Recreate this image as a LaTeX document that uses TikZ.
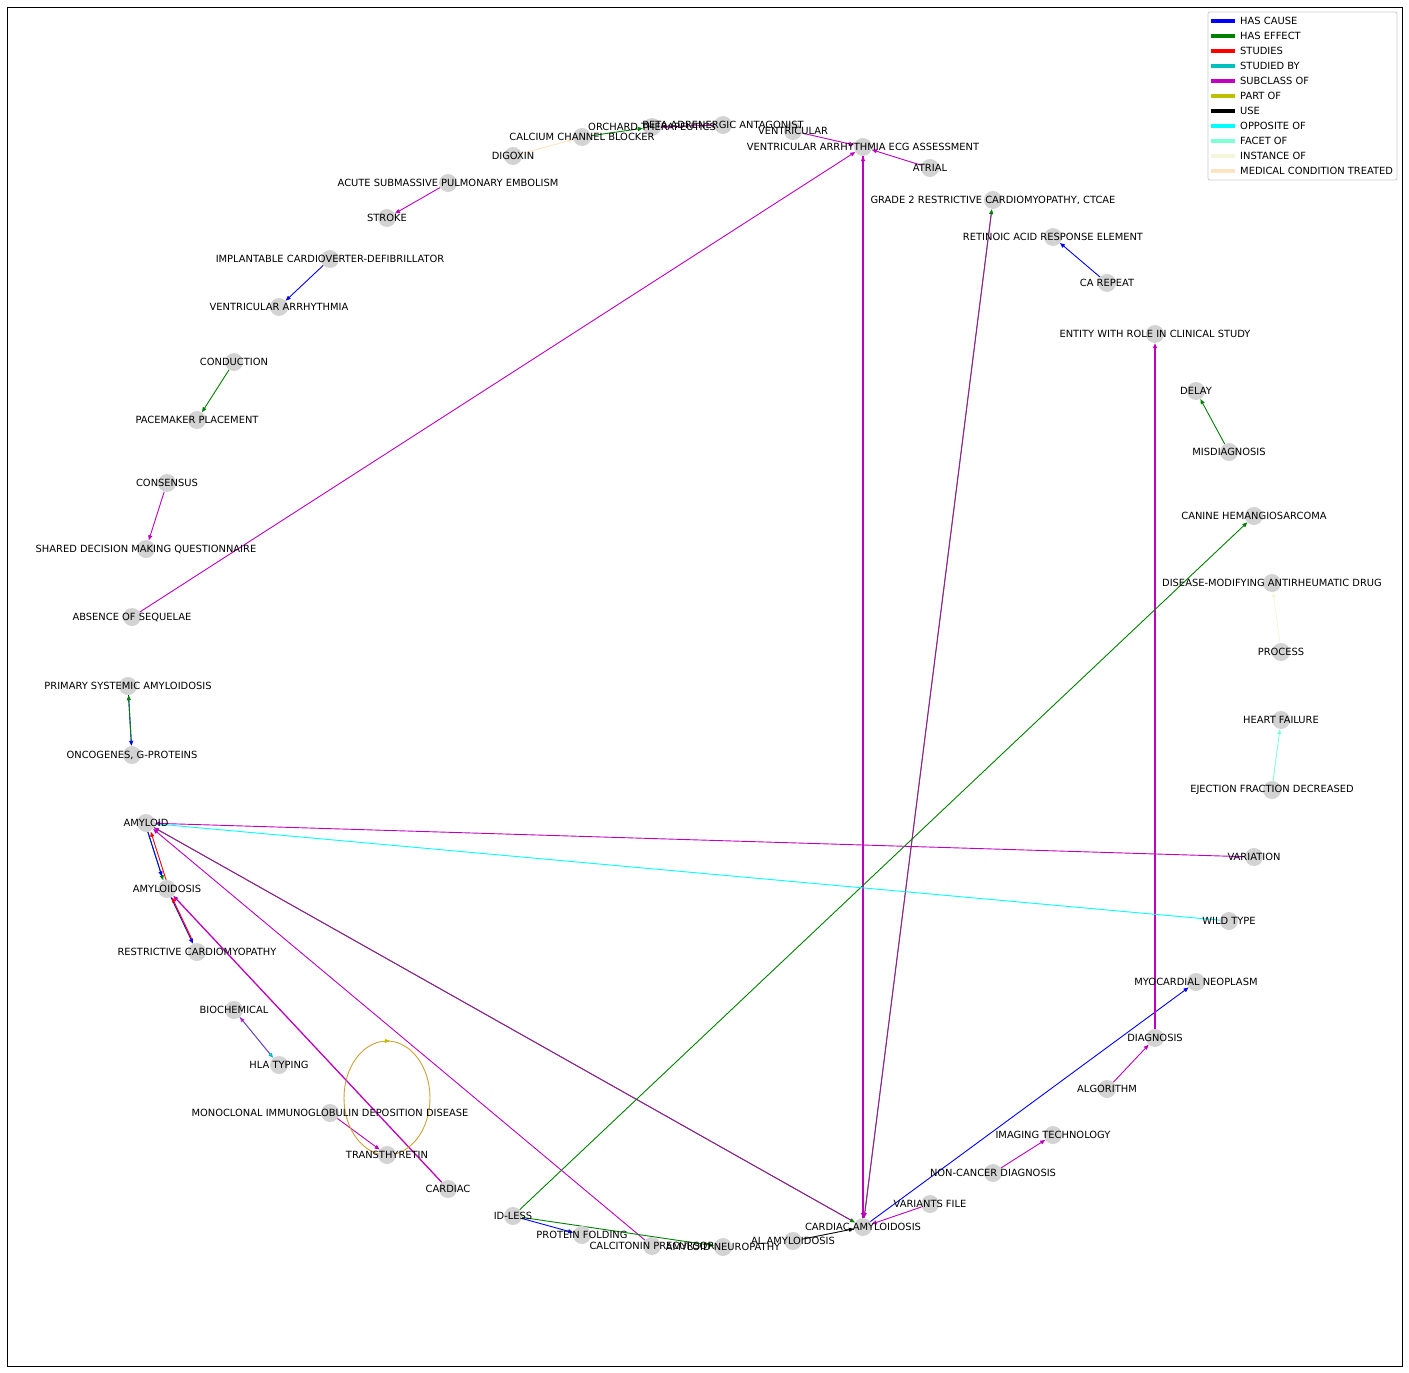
\documentclass[tikz,border=0pt]{standalone}
\usepackage{fontspec}
\setmainfont{DejaVu Sans}
\usetikzlibrary{arrows.meta,calc}
\pgfdeclarelayer{background}
\pgfsetlayers{background,main}
\definecolor{cHC}{rgb}{0,0,1}
\definecolor{cHE}{rgb}{0,0.5,0}
\definecolor{cST}{rgb}{1,0,0}
\definecolor{cSB}{rgb}{0,0.75,0.75}
\definecolor{cSC}{rgb}{0.75,0,0.75}
\definecolor{cPO}{rgb}{0.75,0.75,0}
\definecolor{cUS}{rgb}{0,0,0}
\definecolor{cOP}{rgb}{0,1,1}
\definecolor{cFA}{rgb}{0.498,1,0.831}
\definecolor{cIN}{rgb}{0.961,0.961,0.863}
\definecolor{cMC}{rgb}{1,0.894,0.769}
\definecolor{cGray}{rgb}{0.827,0.827,0.827}
\definecolor{cLoop}{rgb}{0.80,0.63,0.22}
\newcommand\gnode[3]{\node[nd] (#1) at (#2,#3) {};}
\begin{document}
\begin{tikzpicture}[x=1pt,y=-1pt,
  nd/.style={circle,fill=cGray,minimum size=18pt,inner sep=0pt},
  lb/.style={font=\fontsize{9.9}{11}\selectfont,inner sep=0pt,text=black},
  ed/.style={line width=0.9pt,-{Triangle[length=5pt,width=4pt]}},
  legline/.style={line width=4pt}]
\useasboundingbox (0,0) rectangle (1409,1373);
\draw[line width=0.8pt] (7,7) rectangle (1402,1366);
% nodes
\gnode{orch}{652}{127}
\gnode{beta}{723}{125}
\gnode{ccb}{582}{137}
\gnode{digo}{513}{156}
\gnode{vent}{793}{131}
\gnode{ecg}{863}{147}
\gnode{atr}{930}{168}
\gnode{gr2}{993}{200}
\gnode{rare}{1053}{237}
\gnode{carep}{1107}{283}
\gnode{pe}{448}{183}
\gnode{stroke}{387}{218}
\gnode{icd}{330}{259}
\gnode{va}{279}{307}
\gnode{cond}{234}{362}
\gnode{pace}{197}{420}
\gnode{cons}{167}{483}
\gnode{sdm}{146}{549}
\gnode{abs}{132}{617}
\gnode{psa}{128}{686}
\gnode{onc}{132}{755}
\gnode{amd}{146}{823}
\gnode{amds}{167}{889}
\gnode{rcm}{197}{952}
\gnode{bio}{234}{1010}
\gnode{hla}{279}{1065}
\gnode{mon}{330}{1113}
\gnode{ttr}{387}{1155}
\gnode{card}{448}{1189}
\gnode{idl}{513}{1216}
\gnode{pf}{582}{1235}
\gnode{calc}{652}{1246}
\gnode{an}{723}{1247}
\gnode{al}{793}{1241}
\gnode{ca}{863}{1227}
\gnode{vf}{930}{1204}
\gnode{ncd}{993}{1173}
\gnode{img}{1053}{1135}
\gnode{alg}{1107}{1089}
\gnode{dx}{1155}{1038}
\gnode{myo}{1196}{982}
\gnode{wt}{1229}{921}
\gnode{var}{1254}{857}
\gnode{efd}{1272}{790}
\gnode{hf}{1281}{720}
\gnode{proc}{1281}{652}
\gnode{dmard}{1272}{583}
\gnode{canine}{1254}{516}
\gnode{misdx}{1229}{452}
\gnode{delay}{1196}{391}
\gnode{entity}{1155}{334}
% edges
\begin{pgfonlayer}{background}
\draw[ed,cMC] (digo) -- (ccb);
\draw[ed,cHE] (ccb) -- (orch);
\draw[ed,cSC] (beta) -- (orch);
\draw[ed,cSC] (vent) -- (ecg);
\draw[ed,cSC] (atr) -- (ecg);
\draw[ed,cSC] (abs) -- (ecg);
\draw[ed,cSC,line width=1.15pt] (ca) -- (ecg);
\draw[ed,cSC,line width=1.15pt] (ecg) -- (ca);
\draw[ed,cHE] (ca) -- (gr2);
\draw[ed,cSC,opacity=0.9,shorten <=5pt] (gr2) -- (ca);
\draw[ed,cHE] (amd) -- (ca);
\draw[ed,cSC,opacity=0.88,shorten <=5pt] (ca) -- (amd);
\draw[ed,cHC] (ca) -- (myo);
\draw[ed,cSC] (vf) -- (ca);
\draw[ed,cUS] (al) -- (ca);
\draw[ed,cSC] (ncd) -- (img);
\draw[ed,cSC] (alg) -- (dx);
\draw[ed,cSC,line width=1.15pt] (dx) -- (entity);
\draw[ed,cHE] (misdx) -- (delay);
\draw[ed,cHE] (idl) -- (canine);
\draw[ed,cIN] (proc) -- (dmard);
\draw[ed,cFA] (efd) -- (hf);
\draw[ed,cOP] (wt) -- (amd);
\draw[ed,cSC] (var) -- (amd);
\draw[ed,cHE,transform canvas={xshift=-1pt}] (amd) -- (amds);
\draw[ed,cHC,transform canvas={xshift=-1pt},shorten >=4pt] (amd) -- (amds);
\draw[ed,cST,transform canvas={xshift=2pt}] (amds) -- (amd);
\draw[ed,cHC] (amds) -- (rcm);
\draw[ed,cST,shorten <=5pt,transform canvas={xshift=1pt}] (rcm) -- (amds);
\draw[ed,cSC,line width=1.3pt] (card) -- (amds);
\draw[ed,cSC] (calc) -- (amd);
\draw[ed,cSB] (bio) -- (hla);
\draw[ed,cSC,opacity=0.7,shorten <=5pt] (hla) -- (bio);
\draw[ed,cSC] (mon) -- (ttr);
\draw[line width=0.9pt,cLoop] ($(ttr)+(0,-57)$) ellipse [x radius=43, y radius=57];
\draw[line width=0.9pt,cPO,-{Triangle[length=5pt,width=4pt]}] ($(ttr)+(-5,-114)$) -- ($(ttr)+(3,-114)$);
\draw[ed,cHC] (idl) -- (pf);
\draw[ed,cHE] (idl) -- (an);
\draw[ed,cSC] (pe) -- (stroke);
\draw[ed,cHC] (icd) -- (va);
\draw[ed,cHE] (cond) -- (pace);
\draw[ed,cSC] (cons) -- (sdm);
\draw[ed,cHC] (psa) -- (onc);
\draw[ed,cHE,shorten <=5pt] (onc) -- (psa);
\draw[ed,cHC] (carep) -- (rare);
\end{pgfonlayer}
% labels
\node[lb] (orch-t) at (orch) {ORCHARD THERAPEUTICS};
\node[lb] (beta-t) at (beta) {BETA-ADRENERGIC ANTAGONIST};
\node[lb] (ccb-t) at (ccb) {CALCIUM CHANNEL BLOCKER};
\node[lb] (digo-t) at (digo) {DIGOXIN};
\node[lb] (vent-t) at (vent) {VENTRICULAR};
\node[lb] (ecg-t) at (ecg) {VENTRICULAR ARRHYTHMIA ECG ASSESSMENT};
\node[lb] (atr-t) at (atr) {ATRIAL};
\node[lb] (gr2-t) at (gr2) {GRADE 2 RESTRICTIVE CARDIOMYOPATHY, CTCAE};
\node[lb] (rare-t) at (rare) {RETINOIC ACID RESPONSE ELEMENT};
\node[lb] (carep-t) at (carep) {CA REPEAT};
\node[lb] (pe-t) at (pe) {ACUTE SUBMASSIVE PULMONARY EMBOLISM};
\node[lb] (stroke-t) at (stroke) {STROKE};
\node[lb] (icd-t) at (icd) {IMPLANTABLE CARDIOVERTER-DEFIBRILLATOR};
\node[lb] (va-t) at (va) {VENTRICULAR ARRHYTHMIA};
\node[lb] (cond-t) at (cond) {CONDUCTION};
\node[lb] (pace-t) at (pace) {PACEMAKER PLACEMENT};
\node[lb] (cons-t) at (cons) {CONSENSUS};
\node[lb] (sdm-t) at (sdm) {SHARED DECISION MAKING QUESTIONNAIRE};
\node[lb] (abs-t) at (abs) {ABSENCE OF SEQUELAE};
\node[lb] (psa-t) at (psa) {PRIMARY SYSTEMIC AMYLOIDOSIS};
\node[lb] (onc-t) at (onc) {ONCOGENES, G-PROTEINS};
\node[lb] (amd-t) at (amd) {AMYLOID};
\node[lb] (amds-t) at (amds) {AMYLOIDOSIS};
\node[lb] (rcm-t) at (rcm) {RESTRICTIVE CARDIOMYOPATHY};
\node[lb] (bio-t) at (bio) {BIOCHEMICAL};
\node[lb] (hla-t) at (hla) {HLA TYPING};
\node[lb] (mon-t) at (mon) {MONOCLONAL IMMUNOGLOBULIN DEPOSITION DISEASE};
\node[lb] (ttr-t) at (ttr) {TRANSTHYRETIN};
\node[lb] (card-t) at (card) {CARDIAC};
\node[lb] (idl-t) at (idl) {ID-LESS};
\node[lb] (pf-t) at (pf) {PROTEIN FOLDING};
\node[lb] (calc-t) at (calc) {CALCITONIN PRECURSOR};
\node[lb] (an-t) at (an) {AMYLOID NEUROPATHY};
\node[lb] (al-t) at (al) {AL AMYLOIDOSIS};
\node[lb] (ca-t) at (ca) {CARDIAC AMYLOIDOSIS};
\node[lb] (vf-t) at (vf) {VARIANTS FILE};
\node[lb] (ncd-t) at (ncd) {NON-CANCER DIAGNOSIS};
\node[lb] (img-t) at (img) {IMAGING TECHNOLOGY};
\node[lb] (alg-t) at (alg) {ALGORITHM};
\node[lb] (dx-t) at (dx) {DIAGNOSIS};
\node[lb] (myo-t) at (myo) {MYOCARDIAL NEOPLASM};
\node[lb] (wt-t) at (wt) {WILD TYPE};
\node[lb] (var-t) at (var) {VARIATION};
\node[lb] (efd-t) at (efd) {EJECTION FRACTION DECREASED};
\node[lb] (hf-t) at (hf) {HEART FAILURE};
\node[lb] (proc-t) at (proc) {PROCESS};
\node[lb] (dmard-t) at (dmard) {DISEASE-MODIFYING ANTIRHEUMATIC DRUG};
\node[lb] (canine-t) at (canine) {CANINE HEMANGIOSARCOMA};
\node[lb] (misdx-t) at (misdx) {MISDIAGNOSIS};
\node[lb] (delay-t) at (delay) {DELAY};
\node[lb] (entity-t) at (entity) {ENTITY WITH ROLE IN CLINICAL STUDY};
% legend
\draw[draw=black!20,fill=white,rounded corners=2pt,line width=0.8pt] (1208,12) rectangle (1397,180);
\foreach \c/\t [count=\i from 0] in {cHC/HAS CAUSE,cHE/HAS EFFECT,cST/STUDIES,cSB/STUDIED BY,cSC/SUBCLASS OF,cPO/PART OF,cUS/USE,cOP/OPPOSITE OF,cFA/FACET OF,cIN/INSTANCE OF,cMC/MEDICAL CONDITION TREATED}{
  \draw[legline,\c] (1211,{20.8+15.0*\i}) -- (1235,{20.8+15.0*\i});
  \node[lb,anchor=west] (leg\i) at (1240,{20.8+15.0*\i}) {\t};
}
\end{tikzpicture}
\end{document}
